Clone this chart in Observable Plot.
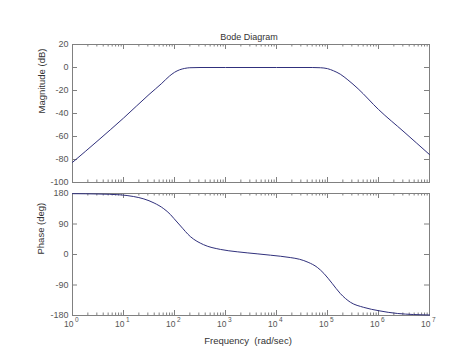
<!DOCTYPE html>
<html><head><meta charset="utf-8">
<script src="https://cdn.jsdelivr.net/npm/d3@7"></script>
<script src="https://cdn.jsdelivr.net/npm/@observablehq/plot@0.6"></script>
<style>
html,body{margin:0;padding:0;background:#fff;overflow:hidden;}
#chart{position:relative;width:474px;height:354px;font-family:"Liberation Sans",Arial,sans-serif;}
#chart svg{position:absolute;left:0;}
</style></head><body><div id="chart"></div>
<script>
// tick definitions
const decades = [0, 1, 2, 3, 4, 5, 6, 7];
const minorFactors = [2, 3, 4, 5, 6, 7, 8, 9];
const magTicks = [-100, -80, -60, -40, -20, 0, 20];
const phaseTicks = [-180, -90, 0, 90, 180];

// magnitude (dB), frequency given as log10(rad/sec)
const magExp = [0, 0.5, 1, 1.5, 1.75, 1.9, 2.0, 2.1, 2.2, 2.3, 2.5, 3, 4, 4.7, 4.86, 5.0, 5.12, 5.25, 5.4, 5.6, 6, 6.5, 7];
const magDb  = [-82.5, -63.5, -44, -23.5, -13.8, -7.5, -4.2, -2.0, -0.8, -0.2, 0, 0, 0, 0, -0.2, -1.0, -2.9, -5.8, -10.8, -18.5, -36.5, -56, -75.7];

// phase (deg)
const phaseExp = [0, 0.5, 0.94, 1.2, 1.4, 1.6, 1.79, 1.92, 1.99, 2.12, 2.31, 2.57, 2.9, 3.23, 3.62, 3.88, 4.27, 4.45, 4.62, 4.8, 4.93, 5.09, 5.25, 5.45, 5.71, 6.01, 6.37, 7];
const phaseDeg = [179.5, 178.5, 176, 171, 164, 152, 135, 118, 106, 84, 53, 29, 15, 8, 2, -2, -9, -14, -23, -38, -56, -85, -115, -141, -156, -166, -174, -178.5];

const W = 474, ML = 72, MR = 45;
const frameW = W - ML - MR;
const majorX = decades.map(d => 10 ** d);
const minorX = decades.slice(0, -1).flatMap(d => minorFactors.map(f => f * 10 ** d));
const lineColor = "#30307c";
const axisColor = "#808080";
const textColor = "#555";
const labelColor = "#333";
const font = "'Liberation Sans', Arial, sans-serif";

function tickMarks(frameH, yTicks) {
  const maj = 5, min = 2.5;
  return [
    Plot.tickX(majorX, {x: d => d, stroke: axisColor, insetTop: frameH - maj}),
    Plot.tickX(majorX, {x: d => d, stroke: axisColor, insetBottom: frameH - maj}),
    Plot.tickX(minorX, {x: d => d, stroke: axisColor, insetTop: frameH - min}),
    Plot.tickX(minorX, {x: d => d, stroke: axisColor, insetBottom: frameH - min}),
    Plot.tickY(yTicks, {y: d => d, stroke: axisColor, insetRight: frameW - maj}),
    Plot.tickY(yTicks, {y: d => d, stroke: axisColor, insetLeft: frameW - maj})
  ];
}

const plotStyle = {background: "transparent", fontFamily: font, fontSize: "9px", color: textColor, overflow: "visible"};

const magData = magExp.map((e, i) => ({w: 10 ** e, v: magDb[i]}));
const phaseData = phaseExp.map((e, i) => ({w: 10 ** e, v: phaseDeg[i]}));

const magPlot = Plot.plot({
  width: W, height: 190, marginLeft: ML, marginRight: MR, marginTop: 44, marginBottom: 8,
  style: plotStyle,
  x: {type: "log", domain: [1, 1e7], axis: null},
  y: {domain: [-100, 20], axis: null},
  marks: [
    Plot.frame({stroke: axisColor}),
    ...tickMarks(138, magTicks),
    Plot.axisY(magTicks, {tickSize: 0, tickPadding: 4, label: null, tickFormat: d => String(d)}),
    Plot.line(magData, {x: "w", y: "v", stroke: lineColor, strokeWidth: 1, curve: "monotone-x"}),
    Plot.text(["Bode Diagram"], {frameAnchor: "top", dx: -2, dy: -11, fill: labelColor, fontSize: 9}),
    Plot.text(["Magnitude (dB)"], {frameAnchor: "left", rotate: -90, dx: -31, fill: labelColor, fontSize: 9.5})
  ]
});

const phasePlot = Plot.plot({
  width: W, height: 169, marginLeft: ML, marginRight: MR, marginTop: 8, marginBottom: 39,
  style: plotStyle,
  x: {type: "log", domain: [1, 1e7], axis: null},
  y: {domain: [-180, 180], axis: null},
  marks: [
    Plot.frame({stroke: axisColor}),
    ...tickMarks(122, phaseTicks),
    Plot.axisY(phaseTicks, {tickSize: 0, tickPadding: 4, label: null, tickFormat: d => String(d)}),
    Plot.line(phaseData, {x: "w", y: "v", stroke: lineColor, strokeWidth: 1, curve: "monotone-x"}),
    Plot.text(decades, {x: d => 10 ** d, text: () => "10", frameAnchor: "bottom", textAnchor: "end", dx: 1, dy: 11.5, fill: textColor, fontSize: 8.5}),
    Plot.text(decades, {x: d => 10 ** d, text: d => String(d), frameAnchor: "bottom", textAnchor: "start", dx: 2.5, dy: 6.5, fill: textColor, fontSize: 6.5}),
    Plot.text(["Frequency\u00a0 (rad/sec)"], {frameAnchor: "bottom", dx: -3, dy: 28, fill: labelColor, fontSize: 9.5}),
    Plot.text(["Phase (deg)"], {frameAnchor: "left", rotate: -90, dx: -32, fill: labelColor, fontSize: 9.5})
  ]
});

const chart = document.getElementById("chart");
magPlot.style.top = "0px";
phasePlot.style.top = "185px";
chart.appendChild(magPlot);
chart.appendChild(phasePlot);
</script>
</body></html>
